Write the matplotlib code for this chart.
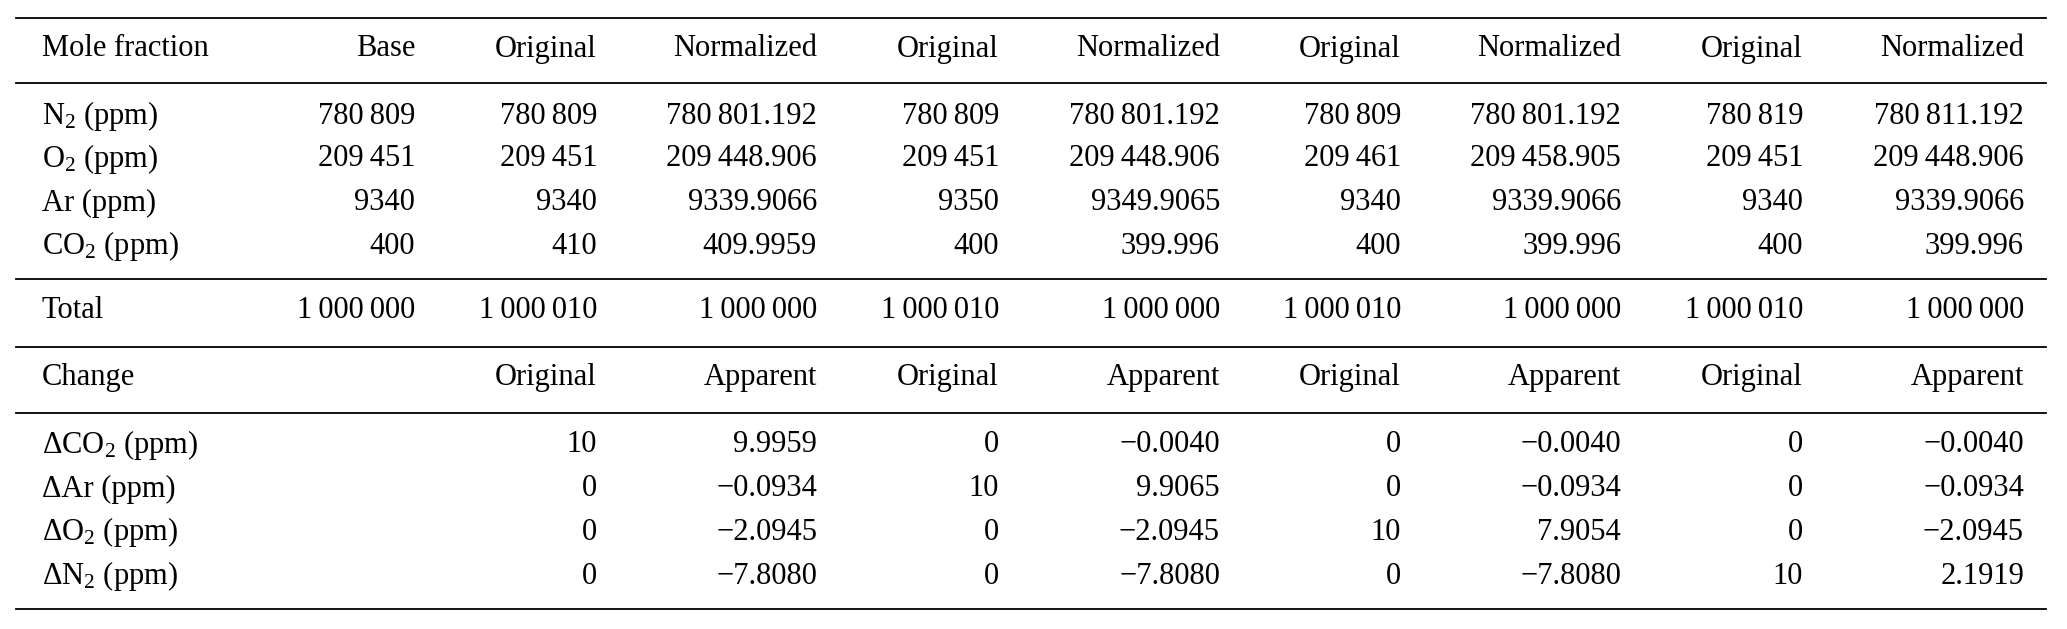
import matplotlib
matplotlib.use("Agg")
import matplotlib.pyplot as plt

plt.rcParams['font.family'] = ['Liberation Serif', 'DejaVu Serif']
plt.rcParams['mathtext.fontset'] = 'custom'
plt.rcParams['mathtext.rm'] = 'Liberation Serif'
plt.rcParams['mathtext.it'] = 'Liberation Serif:italic'

T = "\u2009"
M = "\u2212"

header1 = ["Mole fraction", "Base", "Original", "Normalized", "Original", "Normalized",
           "Original", "Normalized", "Original", "Normalized"]
species = ["N$_2$ (ppm)", "O$_2$ (ppm)", "Ar (ppm)", "CO$_2$ (ppm)"]
n2 = ["780"+T+"809", "780"+T+"809", "780"+T+"801.192", "780"+T+"809", "780"+T+"801.192",
      "780"+T+"809", "780"+T+"801.192", "780"+T+"819", "780"+T+"811.192"]
o2 = ["209"+T+"451", "209"+T+"451", "209"+T+"448.906", "209"+T+"451", "209"+T+"448.906",
      "209"+T+"461", "209"+T+"458.905", "209"+T+"451", "209"+T+"448.906"]
ar = ["9340", "9340", "9339.9066", "9350", "9349.9065", "9340", "9339.9066", "9340", "9339.9066"]
co2 = ["400", "410", "409.9959", "400", "399.996", "400", "399.996", "400", "399.996"]
total = ["1"+T+"000"+T+"000", "1"+T+"000"+T+"010", "1"+T+"000"+T+"000",
         "1"+T+"000"+T+"010", "1"+T+"000"+T+"000", "1"+T+"000"+T+"010",
         "1"+T+"000"+T+"000", "1"+T+"000"+T+"010", "1"+T+"000"+T+"000"]
header2 = ["Change", "", "Original", "Apparent", "Original", "Apparent",
           "Original", "Apparent", "Original", "Apparent"]
changes = ["Δ CO$_2$ (ppm)", "ΔAr (ppm)", "ΔO$_2$ (ppm)", "ΔN$_2$ (ppm)"]
changes = ["ΔCO$_2$ (ppm)", "ΔAr (ppm)", "ΔO$_2$ (ppm)", "ΔN$_2$ (ppm)"]
d_co2 = ["", "10", "9.9959", "0", M+"0.0040", "0", M+"0.0040", "0", M+"0.0040"]
d_ar = ["", "0", M+"0.0934", "10", "9.9065", "0", M+"0.0934", "0", M+"0.0934"]
d_o2 = ["", "0", M+"2.0945", "0", M+"2.0945", "10", "7.9054", "0", M+"2.0945"]
d_n2 = ["", "0", M+"7.8080", "0", M+"7.8080", "0", M+"7.8080", "10", "2.1919"]

W, H = 2067, 629
fig = plt.figure(figsize=(W/100, H/100), dpi=100)
ax = fig.add_axes([0, 0, 1, 1])
ax.set_xlim(0, W); ax.set_ylim(H, 0); ax.axis('off')

xl = 42
xr = [415, 597, 817, 999, 1220, 1401, 1621, 1803, 2024]
fs = 22

def row(y, label, vals):
    ax.text(xl, y, label, ha='left', va='center', fontsize=fs)
    for x, v in zip(xr, vals):
        ax.text(x, y, v, ha='right', va='center', fontsize=fs)

def rule(y):
    ax.plot([16, 2046], [y, y], color='black', lw=1.3)

for y in [18, 83, 279, 347, 413, 609]:
    rule(y)

row(49, header1[0], header1[1:])
for y, lab, vals in zip([116, 159, 203, 246], species, [n2, o2, ar, co2]):
    row(y, lab, vals)
row(311, "Total", total)
row(378, header2[0], header2[1:])
for y, lab, vals in zip([445, 489, 532, 576], changes, [d_co2, d_ar, d_o2, d_n2]):
    row(y, lab, vals)

fig.savefig("out.png", dpi=100, facecolor='white')
